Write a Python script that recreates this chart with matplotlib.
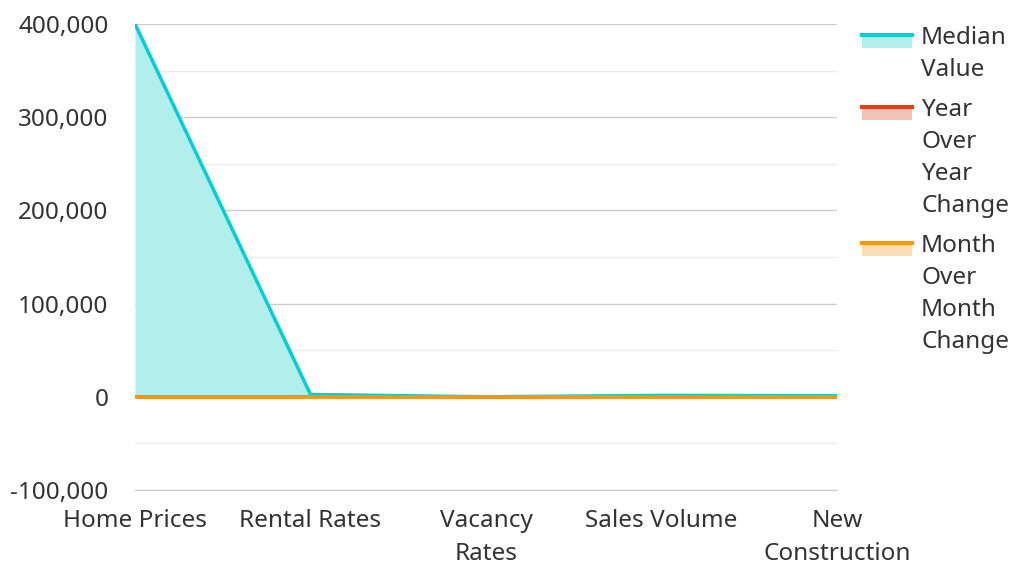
import matplotlib
matplotlib.use('Agg')
import matplotlib.pyplot as plt
from matplotlib.patches import Rectangle
from matplotlib.lines import Line2D
from matplotlib.ticker import FuncFormatter, MultipleLocator

plt.rcParams['font.family'] = ['Noto Sans', 'DejaVu Sans']

categories = ['Home Prices', 'Rental Rates', 'Vacancy\nRates', 'Sales Volume', 'New\nConstruction']
median_value = [400000, 2500, 5, 1500, 1200]
yoy_change = [5.2, 3.1, -0.4, -2.5, 1.8]
mom_change = [0.4, 0.2, 0.1, -0.3, 0.5]

series = [
    ('Median\nValue', median_value, '#00CED1', '#B2EEEC'),
    ('Year\nOver\nYear\nChange', yoy_change, '#E0401A', '#F3C3B8'),
    ('Month\nOver\nMonth\nChange', mom_change, '#FF9800', '#FFDDB2'),
]

TXT = '#333333'
FS = 17.5

fig = plt.figure(figsize=(10.13, 5.62), dpi=100)
ax = fig.add_axes([135/1013, 1 - 490/562, (837-135)/1013, (490-24)/562])

x = list(range(len(categories)))
for name, vals, line_c, fill_c in series:
    ax.fill_between(x, 0, vals, color=fill_c, lw=0, zorder=2)
for name, vals, line_c, fill_c in series:
    ax.plot(x, vals, color=line_c, lw=2.5, zorder=3, solid_joinstyle='miter')

ax.set_xlim(0, len(categories) - 1)
ax.set_ylim(-100000, 400000)
ax.yaxis.set_major_locator(MultipleLocator(100000))
ax.yaxis.set_minor_locator(MultipleLocator(50000))
ax.yaxis.set_major_formatter(FuncFormatter(lambda v, p: f'{int(v):,}'))
ax.grid(axis='y', which='major', color='#CCCCCC', lw=1, zorder=0)
ax.grid(axis='y', which='minor', color='#EBEBEB', lw=1, zorder=0)
ax.set_xticks(x)
ax.set_xticklabels(categories, linespacing=1.5)
ax.tick_params(axis='y', which='both', length=0, labelsize=FS, labelcolor=TXT, pad=19)
ax.tick_params(axis='x', length=0, labelsize=FS, labelcolor=TXT, pad=14)
for s in ['top', 'right', 'left']:
    ax.spines[s].set_visible(False)
ax.spines['bottom'].set_color('#CCCCCC')

# legend drawn manually: swatch = filled patch with line on top
line_y = [35, 107, 243]
text_y = [26, 98, 234]
for (name, vals, line_c, fill_c), yy, ty in zip(series, line_y, text_y):
    fig.patches.append(Rectangle((862/1013, 1 - (yy + 13)/562), 50/1013, 13/562,
                                 transform=fig.transFigure, color=fill_c, lw=0))
    fig.lines.append(Line2D([862/1013, 912/1013], [1 - yy/562] * 2,
                            transform=fig.transFigure, color=line_c, lw=3))
    fig.text(921/1013, 1 - ty/562, name, ha='left', va='top', fontsize=FS, color=TXT,
             linespacing=1.45, transform=fig.transFigure)

fig.savefig('out.png', dpi=100, facecolor='white')
